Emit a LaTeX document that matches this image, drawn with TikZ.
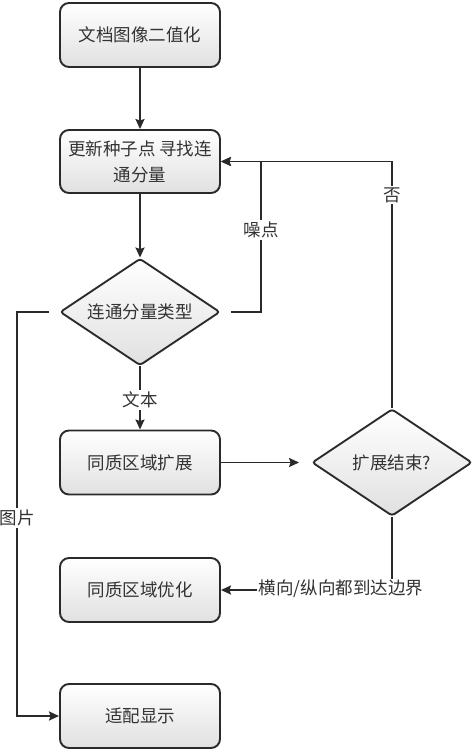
\documentclass[tikz,border=0pt]{standalone}
\usepackage{fontspec}
\setmainfont{Noto Sans CJK SC}
\usetikzlibrary{shapes.geometric,arrows.meta}
\definecolor{linec}{HTML}{2A2A2A}
\definecolor{txt}{HTML}{333333}
\begin{document}
\begin{tikzpicture}[x=1pt,y=-1pt,
  font=\fontsize{17.5}{26}\selectfont,
  box/.style={draw=linec,line width=1.9pt,rounded corners=9pt,minimum width=160pt,minimum height=64pt,inner sep=0pt,top color=white,bottom color=black!12,text=txt,align=center},
  dec/.style={draw=linec,line width=1.9pt,diamond,aspect=1.5,minimum width=160pt,minimum height=107pt,inner sep=0pt,top color=white,bottom color=black!12,text=txt,rounded corners=3pt},
  conn/.style={draw=linec,line width=1.9pt},
  arr/.style={-{Stealth[length=10pt,width=9pt,inset=1.5pt]}},
  lbl/.style={fill=white,text=txt,inner sep=1.5pt}]
\useasboundingbox (0,0) rectangle (474,752);
% nodes
\node[box] (b1) at (140,35) {文档图像二值化};
\node[box,minimum height=63pt] (b2) at (140,161.5) {更新种子点 寻找连\\通分量};
\node[dec] (d1) at (140,312) {连通分量类型};
\node[box] (b3) at (140,462.5) {同质区域扩展};
\node[dec] (d2) at (392,462.5) {扩展结束?};
\node[box] (b4) at (140,590) {同质区域优化};
\node[box] (b5) at (140,716) {适配显示};
\coordinate (n1) at (261,312);
\coordinate (n2) at (17,312);
% connectors
\draw[conn,arr] (b1) -- (b2);
\draw[conn,arr] (b2) -- (d1);
\draw[conn,arr,shorten <=10pt] (d1.east) -- (n1) |- (b2.east);
\draw[conn,arr] (d2.north) |- (b2.east);
\draw[conn,arr] (d1) -- (b3);
\draw[conn,arr,shorten >=12pt] (b3) -- (d2);
\draw[conn,arr] (d2.south) |- (b4.east);
\draw[conn,arr,shorten <=10pt] (d1.west) -- (n2) |- (b5.west);
% labels
\node[lbl] (l1) at (261,230) {噪点};
\node[lbl] (l2) at (392,195) {否};
\node[lbl] (l3) at (140,400) {文本};
\node[lbl] (l4) at (341,589) {横向/纵向都到达边界};
\node[lbl] (l5) at (17,518) {图片};
\end{tikzpicture}
\end{document}
